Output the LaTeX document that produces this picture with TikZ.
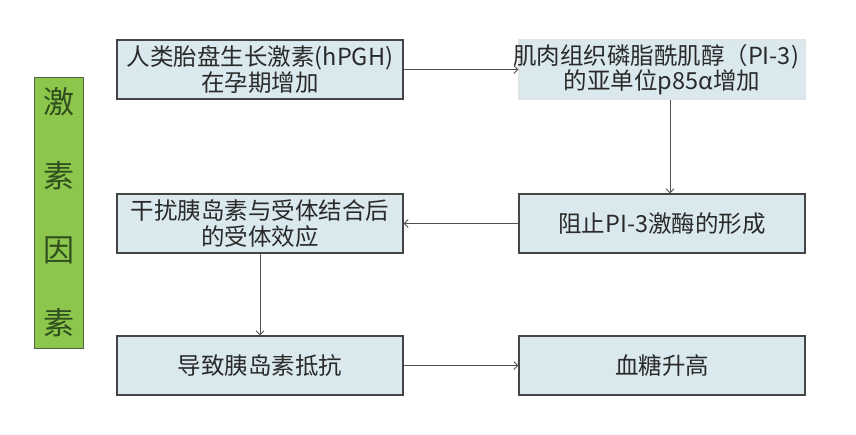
\documentclass[tikz,border=0pt]{standalone}
\usepackage{fontspec}
\setmainfont{Noto Sans CJK SC}
\usetikzlibrary{arrows.meta}
\definecolor{boxfill}{HTML}{DAE9EE}
\definecolor{boxline}{HTML}{454545}
\definecolor{greenfill}{HTML}{8DC64C}
\definecolor{greentext}{HTML}{2F4F1E}
\definecolor{txt}{HTML}{2A2A2A}
\definecolor{conn}{HTML}{505050}
\tikzset{
  flowbox/.style={draw=boxline, line width=1.1pt, fill=boxfill, minimum width=286pt, minimum height=59pt,
    inner sep=0pt, align=center, text=txt, font=\fontsize{23.5pt}{25.5pt}\selectfont},
  lightbox/.style={flowbox, draw=boxfill!80!gray!60},
  sidebox/.style={draw=boxline!80!greenfill, line width=1pt, fill=greenfill, minimum width=49pt, minimum height=271pt,
    inner sep=0pt, align=center, text=greentext, font=\fontsize{31pt}{73.7pt}\selectfont},
  link/.style={draw=conn, line width=0.9pt, -{Straight Barb[length=4pt,width=8pt]}}
}
\begin{document}
\begin{tikzpicture}[x=1pt,y=-1pt]
\useasboundingbox (0,0) rectangle (856,434);
\node[sidebox] (side) at (58.5,212.5) {激\\素\\因\\素};
\node[flowbox] (b1) at (260,69.5) {人类胎盘生长激素(hPGH)\\在孕期增加};
\node[lightbox] (b2) at (662,69.5) {\hspace*{-12pt}肌肉组织磷脂酰肌醇（PI-3)\\的亚单位p85α增加};
\node[flowbox] (b3) at (260,223.5) {干扰胰岛素与受体结合后\\的受体效应};
\node[flowbox] (b4) at (662,223.5) {阻止PI-3激酶的形成};
\node[flowbox] (b5) at (260,365.5) {导致胰岛素抵抗};
\node[flowbox] (b6) at (662,365.5) {血糖升高};
\draw[link] (b1.east) -- (b2.west);
\draw[link] ([xshift=8pt]b2.south) -- ([xshift=8pt]b4.north);
\draw[link] (b4.west) -- (b3.east);
\draw[link] (b3.south) -- (b5.north);
\draw[link] (b5.east) -- (b6.west);
\end{tikzpicture}
\end{document}
